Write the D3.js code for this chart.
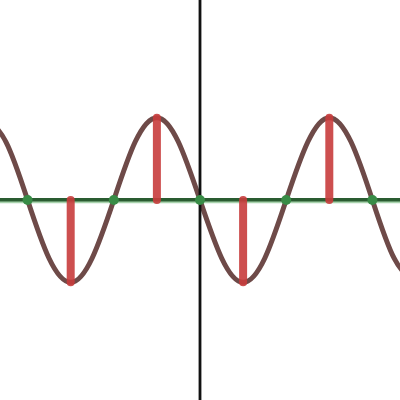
<!DOCTYPE html>
<html>
<head>
<meta charset="utf-8">
<script src="https://cdn.jsdelivr.net/npm/d3@7"></script>
<style>
html,body{margin:0;padding:0;background:#fff;}
svg{display:block;}
</style>
</head>
<body>
<script>
// Curve samples (x in graph units, y in graph units)
const curveX = [-7.85, -7.07, -6.28, -5.50, -4.71, -3.93, -3.14, -2.36, -1.57, -0.79, 0, 0.79, 1.57, 2.36, 3.14, 3.93, 4.71, 5.50, 6.28, 7.07, 7.85];
const curveY = [3, 2.12, 0, -2.12, -3, -2.12, 0, 2.12, 3, 2.12, 0, -2.12, -3, -2.12, 0, 2.12, 3, 2.12, 0, -2.12, -3];
// Vertical red segments at extrema
const barX = [-4.71, -1.57, 1.57, 4.71];
const barY = [-3, 3, -3, 3];
// Green points on the zero line
const zeroX = [-6.28, -3.14, 0, 3.14, 6.28];

const W = 400, H = 400;
const half = 7.285;
const x = d3.scaleLinear().domain([-half, half]).range([0, W]);
const y = d3.scaleLinear().domain([-half, half]).range([H, 0]);

const svg = d3.select("body").append("svg").attr("width", W).attr("height", H);
svg.append("rect").attr("width", W).attr("height", H).attr("fill", "#fff");

const clip = svg.append("defs").append("clipPath").attr("id", "c");
clip.append("rect").attr("width", W).attr("height", H);
const g = svg.append("g").attr("clip-path", "url(#c)");

// Horizontal zero line (light green halo + dark line)
g.append("line").attr("x1", 0).attr("x2", W)
  .attr("y1", y(0) + 0.8).attr("y2", y(0) + 0.8)
  .attr("stroke", "#a9d4ae").attr("stroke-width", 5);
g.append("line").attr("x1", 0).attr("x2", W)
  .attr("y1", y(0) - 0.2).attr("y2", y(0) - 0.2)
  .attr("stroke", "#2a5c31").attr("stroke-width", 3.5);

// Curve
const pts = curveX.map((d, i) => [d, curveY[i]]);
g.append("path").datum(pts)
  .attr("d", d3.line().x(d => x(d[0])).y(d => y(d[1])).curve(d3.curveNatural))
  .attr("fill", "none").attr("stroke", "#6e4a48").attr("stroke-width", 5);

// Vertical axis
g.append("line").attr("x1", x(0)).attr("x2", x(0)).attr("y1", 0).attr("y2", H)
  .attr("stroke", "#111").attr("stroke-width", 2.8);

// Red bars
g.selectAll("line.bar").data(barX).join("line").attr("class", "bar")
  .attr("x1", d => x(d)).attr("x2", d => x(d))
  .attr("y1", y(0)).attr("y2", (d, i) => y(barY[i]))
  .attr("stroke", "rgb(200,60,60)").attr("stroke-opacity", 0.9)
  .attr("stroke-width", 8).attr("stroke-linecap", "round");

// Green dots
g.selectAll("circle").data(zeroX).join("circle")
  .attr("cx", d => x(d)).attr("cy", y(0)).attr("r", 5)
  .attr("fill", "#388c46");
</script>
</body>
</html>
